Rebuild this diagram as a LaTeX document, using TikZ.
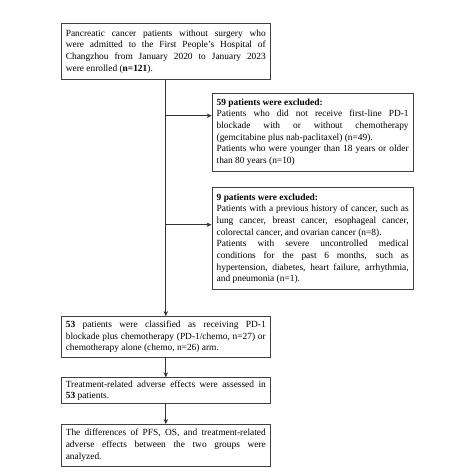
\documentclass[tikz,border=0pt]{standalone}
\usepackage{fontspec}
\setmainfont{Liberation Serif}
\usetikzlibrary{arrows.meta}
\hyphenpenalty=10000
\exhyphenpenalty=10000
\begin{document}
\begin{tikzpicture}[x=1pt,y=1pt,
  box/.style={draw=black!75,line width=0.9pt,anchor=north west,inner xsep=4pt,inner ysep=2pt,
    align=justify,font=\fontsize{9.4}{11.7}\selectfont},
  conn/.style={draw=black!80,line width=0.7pt},
  arr/.style={conn,-{Stealth[length=5pt,width=4.5pt]}}]
\useasboundingbox (0,0) rectangle (474,-474);
\node[box,minimum width=209.3pt,minimum height=56.6pt,text width=200pt] (b1) at (60.7,-22.7)
  {Pancreatic cancer patients without surgery who\linebreak were admitted to the First People's Hospital of\linebreak Changzhou from January 2020 to January 2023\linebreak were enrolled (\textbf{n=121}).};
\node[box,minimum width=201pt,minimum height=78pt,text width=192pt] (b2) at (211.7,-92.7)
  {\textbf{59 patients were excluded:}\\Patients who did not receive first-line PD-1\linebreak blockade with or without chemotherapy\linebreak (gemcitabine plus nab-paclitaxel) (n=49).\\Patients who were younger than 18 years or older\linebreak than 80 years (n=10)};
\node[box,minimum width=201.5pt,minimum height=102pt,text width=192pt] (b3) at (211.5,-187.3)
  {\textbf{9 patients were excluded:}\\Patients with a previous history of cancer, such as\linebreak lung cancer, breast cancer, esophageal cancer,\linebreak colorectal cancer, and ovarian cancer (n=8).\\Patients with severe uncontrolled medical\linebreak conditions for the past 6 months, such as\linebreak hypertension, diabetes, heart failure, arrhythmia,\linebreak and pneumonia (n=1).};
\node[box,minimum width=209.3pt,minimum height=40.7pt,text width=200pt] (b4) at (60.7,-316)
  {\textbf{53} patients were classified as receiving PD-1\linebreak blockade plus chemotherapy (PD-1/chemo, n=27) or\linebreak chemotherapy alone (chemo, n=26) arm.};
\node[box,minimum width=209.3pt,minimum height=26pt,text width=200pt] (b5) at (60.7,-377.3)
  {Treatment-related adverse effects were assessed in\linebreak \textbf{53} patients.};
\node[box,minimum width=209.3pt,minimum height=41.7pt,text width=200pt] (b6) at (60.7,-424)
  {The differences of PFS, OS, and treatment-related\linebreak adverse effects between the two groups were\linebreak analyzed.};
\coordinate (j1) at (b1.south |- 0,-115.7);
\coordinate (j2) at (b1.south |- 0,-224.7);
\draw[arr] (b1.south) -- (b4.north);
\draw[arr] (j1) -- (j1 -| b2.west);
\draw[arr] (j2) -- (j2 -| b3.west);
\draw[arr] (b4.south) -- (b5.north);
\draw[arr] (b5.south) -- (b6.north);
\end{tikzpicture}
\end{document}
